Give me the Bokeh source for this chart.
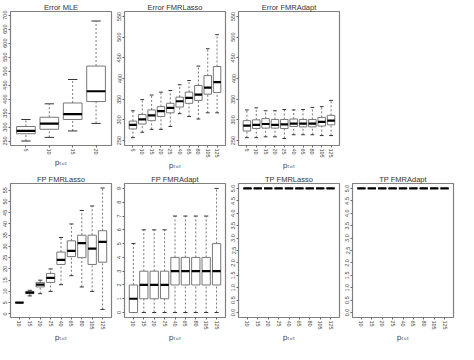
from bokeh.plotting import figure
from bokeh.layouts import gridplot
from bokeh.models import Range1d, FixedTicker, ColumnDataSource
from bokeh.embed import file_html
from bokeh.resources import INLINE

# ---------------- data ----------------
cats_mle = ["5", "10", "15", "20"]
cats_err = ["5", "10", "15", "20", "25", "40", "65", "80", "105", "125"]
cats_fp = ["10", "15", "20", "25", "40", "65", "80", "105", "125"]

# Error MLE  (low whisker, Q1, median, Q3, high whisker)
mle_lo = [250, 263, 286, 313]
mle_q1 = [276, 292, 327, 391]
mle_md = [286, 312, 346, 428]
mle_q3 = [302, 335, 386, 518]
mle_hi = [327, 383, 470, 679]

# Error FMRLasso
el_lo = [257, 270, 277, 277, 284, 315, 308, 302, 317, 317]
el_q1 = [278, 290, 298, 308, 317, 331, 340, 347, 362, 366]
el_md = [288, 301, 311, 321, 329, 345, 353, 361, 378, 391]
el_q3 = [297, 313, 324, 332, 340, 355, 367, 383, 407, 429]
el_hi = [322, 349, 360, 367, 371, 385, 395, 430, 472, 506]

# Error FMRAdapt
ea_lo = [257, 257, 259, 259, 255, 264, 264, 264, 262, 262]
ea_q1 = [273, 279, 280, 280, 279, 284, 283, 283, 285, 288]
ea_md = [286, 288, 290, 288, 289, 291, 291, 291, 295, 298]
ea_q3 = [298, 300, 303, 301, 301, 302, 301, 301, 306, 311]
ea_hi = [324, 329, 322, 322, 325, 324, 325, 330, 332, 347]

# FP FMRLasso
fl_lo = [5, 8, 9, 10, 13, 17, 12, 10, 2]
fl_q1 = [5, 9, 12, 14, 22, 25.5, 25, 22, 23]
fl_md = [5, 9.5, 13, 16, 24, 28, 31.5, 29, 32]
fl_q3 = [5, 10, 14, 18, 27.5, 32.5, 35, 35, 37]
fl_hi = [5, 10.5, 15, 20, 34, 40, 46, 48, 56]

# FP FMRAdapt
fa_lo = [0, 0, 0, 0, 0, 0, 0, 0, 0]
fa_q1 = [0, 1, 1, 1, 2, 2, 2, 2, 2]
fa_md = [1, 2, 2, 2, 3, 3, 3, 3, 3]
fa_q3 = [2, 3, 3, 3, 4, 4, 4, 4, 5]
fa_hi = [5, 6, 6, 6, 7, 7, 7, 7, 9]

# TP (all equal to 5)
tp_vals = [5, 5, 5, 5, 5, 5, 5, 5, 5]

panels = [
    ("Error MLE", cats_mle, (mle_lo, mle_q1, mle_md, mle_q3, mle_hi), (234, 713), list(range(250, 701, 50)), "{:d}"),
    ("Error FMRLasso", cats_err, (el_lo, el_q1, el_md, el_q3, el_hi), (238, 562), list(range(250, 551, 50)), "{:d}"),
    ("Error FMRAdapt", cats_err, (ea_lo, ea_q1, ea_md, ea_q3, ea_hi), (238, 562), list(range(250, 551, 50)), "{:d}"),
    ("FP FMRLasso", cats_fp, (fl_lo, fl_q1, fl_md, fl_q3, fl_hi), (-1.6, 58), list(range(0, 56, 5)), "{:d}"),
    ("FP FMRAdapt", cats_fp, (fa_lo, fa_q1, fa_md, fa_q3, fa_hi), (-0.36, 9.36), list(range(0, 10)), "{:d}"),
    ("TP FMRLasso", cats_fp, (tp_vals,) * 5, (-0.2, 5.2), [i * 0.5 for i in range(11)], "{:.1f}"),
    ("TP FMRAdapt", cats_fp, (tp_vals,) * 5, (-0.2, 5.2), [i * 0.5 for i in range(11)], "{:.1f}"),
]

GRAY = "#808080"
FONT = "Liberation Sans"


def make_panel(title, cats, stats, yr, yticks, fmt):
    n = len(cats)
    lo, q1, md, q3, hi = stats
    xs = list(range(1, n + 1))
    pad = 0.04 * n
    src = ColumnDataSource(dict(
        x=xs, lo=lo, q1=q1, md=md, q3=q3, hi=hi,
        xl=[x - 0.2 for x in xs], xr=[x + 0.2 for x in xs],
    ))
    p = figure(width=114, height=172, output_backend="svg", toolbar_location=None,
               x_range=Range1d(0.5 - pad, n + 0.5 + pad), y_range=Range1d(*yr),
               min_border_left=2, min_border_right=3, min_border_top=0, min_border_bottom=0,
               title=title)
    p.title.align = "center"
    p.title.text_font = FONT
    p.title.text_font_size = "7.5px"
    p.title.text_font_style = "normal"
    p.title.text_color = "#333333"
    p.title.offset = 0
    p.title.standoff = 0

    p.outline_line_color = GRAY
    p.outline_line_width = 1.2
    p.grid.visible = False
    p.background_fill_color = "white"
    p.border_fill_color = "white"

    for ax in (p.xaxis, p.yaxis):
        ax.axis_line_color = None
        ax.major_tick_line_color = "#666666"
        ax.major_tick_out = 2
        ax.major_tick_in = 0
        ax.minor_tick_line_color = None
        ax.major_label_text_font = FONT
        ax.major_label_text_font_size = "5.5px"
        ax.major_label_text_color = "#444444"
        ax.major_label_orientation = "vertical"
        ax.major_label_standoff = 1

    p.xaxis.ticker = FixedTicker(ticks=xs)
    p.xaxis.major_label_overrides = {x: c for x, c in zip(xs, cats)}
    p.xaxis.axis_label = "p\u209c\u2092\u209c"
    p.xaxis.axis_label_text_font = "DejaVu Sans"
    p.xaxis.axis_label_text_font_size = "7.5px"
    p.xaxis.axis_label_text_font_style = "normal"
    p.xaxis.axis_label_text_color = "#444444"
    p.xaxis.axis_label_standoff = 0

    p.yaxis.ticker = FixedTicker(ticks=yticks)
    p.yaxis.major_label_overrides = {t: fmt.format(t) for t in yticks}

    # whiskers
    p.segment(x0="x", y0="q3", x1="x", y1="hi", source=src, line_color="#777777",
              line_width=1, line_dash="2 2")
    p.segment(x0="x", y0="lo", x1="x", y1="q1", source=src, line_color="#777777",
              line_width=1, line_dash="2 2")
    # caps
    p.segment(x0="xl", y0="hi", x1="xr", y1="hi", source=src, line_color="#333333", line_width=1)
    p.segment(x0="xl", y0="lo", x1="xr", y1="lo", source=src, line_color="#333333", line_width=1)
    # boxes
    p.vbar(x="x", width=0.8, bottom="q1", top="q3", source=src, fill_color="white",
           line_color="#777777", line_width=1)
    # medians
    p.rect(x="x", y="md", width=0.8, height=2.2, height_units="screen", source=src,
           fill_color="black", line_color=None)
    return p


figs = [make_panel(*pp) for pp in panels]
grid = gridplot([[figs[0], figs[1], figs[2], None],
                 [figs[3], figs[4], figs[5], figs[6]]],
                toolbar_location=None)

open("out.html", "w").write(file_html(grid, INLINE))
